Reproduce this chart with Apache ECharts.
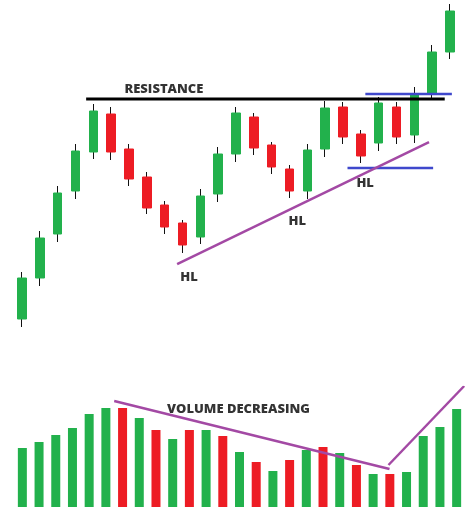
<!DOCTYPE html>
<html>
<head>
<meta charset="utf-8">
<script src="https://cdn.jsdelivr.net/npm/echarts@6/dist/echarts.min.js"></script>
<style>
  html, body { margin: 0; padding: 0; background: #fff; }
  #chart { width: 466px; height: 520px; }
</style>
</head>
<body>
<div id="chart"></div>
<script>
// price candles
const opens  = [21, 62, 106, 149, 188, 226, 191, 163, 135, 117, 103, 146, 186, 223, 195, 171, 149, 191, 233, 206, 197, 233, 205, 247, 288]
const closes = [62, 102, 147, 189, 229, 188, 161, 132, 113, 95, 144, 186, 227, 192, 173, 149, 190, 232, 203, 184, 237, 203, 245, 288, 329]
const lows   = [13, 54, 98, 141, 181, 180, 154, 126, 106, 87, 96, 138, 178, 185, 166, 142, 141, 183, 196, 177, 189, 196, 197, 242, 281]
const highs  = [68, 109, 154, 196, 236, 233, 196, 168, 139, 120, 151, 193, 233, 227, 198, 175, 196, 239, 238, 210, 243, 238, 253, 295, 336]

// volume bars
const volumes = [59, 65, 72, 79, 93, 99, 99, 89, 77, 68, 77, 77, 71, 55, 45, 36, 47, 57, 60, 54, 42, 33, 33, 35, 71, 80, 98]
const volumeDir = ['up', 'up', 'up', 'up', 'up', 'up', 'down', 'up', 'down', 'up', 'down', 'up', 'down', 'up',
  'down', 'up', 'down', 'up', 'down', 'up', 'down', 'up', 'down', 'up', 'up', 'up', 'up']

// annotations: [candle index, price] / [bar index, volume]
const resistanceLine = [[3.6, 241], [23.7, 241]]
const breakoutLine = [[19.25, 246], [24.1, 246]]
const higherLowLine = [[18.25, 172], [23.05, 172]]
const supportTrend = [[8.7, 76], [22.82, 198]]
const volumeTrendDown = [[5.5, 106], [21.98, 38]]
const volumeTrendUp = [[21.92, 42], [26.45, 121]]
const priceLabels = [
  { text: 'RESISTANCE', at: [7.96, 251] },
  { text: 'HL', at: [9.37, 63] },
  { text: 'HL', at: [15.43, 119] },
  { text: 'HL', at: [19.24, 157] },
]
const volumeLabels = [{ text: 'VOLUME DECREASING', at: [12.94, 98] }]

const GREEN = '#22b14c'
const RED = '#ed1c24'
const PURPLE = '#a349a4'
const BLUE = '#3f48cc'

const candleIdx = opens.map((_, i) => i)
const volIdx = volumes.map((_, i) => i)

// black wick underneath, coloured body (no wick) on top
const wickData = opens.map((o, i) => [o, closes[i], lows[i], highs[i]])
const bodyData = opens.map((o, i) => {
  const lo = Math.min(o, closes[i])
  const hi = Math.max(o, closes[i])
  return [o, closes[i], lo, hi]
})

function lineSeries(data, color, width, xAxisIndex, yAxisIndex) {
  return {
    type: 'line',
    xAxisIndex,
    yAxisIndex,
    data,
    symbol: 'none',
    silent: true,
    lineStyle: { color, width },
    z: 5,
  }
}

function labelSeries(items, xAxisIndex, yAxisIndex, size) {
  return {
    type: 'scatter',
    xAxisIndex,
    yAxisIndex,
    symbolSize: 0,
    silent: true,
    data: items.map(l => ({ value: l.at, name: l.text })),
    label: {
      show: true,
      position: 'inside',
      formatter: p => p.name,
      color: '#000',
      fontFamily: 'Open Sans',
      fontWeight: 800,
      fontSize: size,
    },
    z: 6,
  }
}

const chart = echarts.init(document.getElementById('chart'))

chart.setOption({
  animation: false,
  backgroundColor: '#fff',
  grid: [
    { left: 13, right: 7, top: 0, height: 340 },
    { left: 14, right: 1, top: 387, height: 120 },
  ],
  xAxis: [
    { type: 'category', gridIndex: 0, data: candleIdx, show: false },
    { type: 'category', gridIndex: 1, data: volIdx, show: false },
    { type: 'value', gridIndex: 0, min: -0.5, max: candleIdx.length - 0.5, show: false },
    { type: 'value', gridIndex: 1, min: -0.5, max: volIdx.length - 0.5, show: false },
  ],
  yAxis: [
    { type: 'value', gridIndex: 0, min: 0, max: 340, show: false, splitLine: { show: false } },
    { type: 'value', gridIndex: 1, min: 0, max: 120, show: false, splitLine: { show: false } },
  ],
  series: [
    {
      type: 'candlestick',
      xAxisIndex: 0,
      yAxisIndex: 0,
      data: wickData,
      barWidth: 1,
      itemStyle: { color: '#111', color0: '#111', borderColor: '#111', borderColor0: '#111', borderWidth: 1 },
      z: 2,
    },
    {
      type: 'candlestick',
      xAxisIndex: 0,
      yAxisIndex: 0,
      data: bodyData,
      barWidth: 9,
      itemStyle: { color: GREEN, color0: RED, borderColor: GREEN, borderColor0: RED, borderWidth: 1 },
      z: 3,
    },
    {
      type: 'bar',
      xAxisIndex: 1,
      yAxisIndex: 1,
      barWidth: 9,
      data: volumes.map((v, i) => ({
        value: v,
        itemStyle: { color: volumeDir[i] === 'up' ? GREEN : RED },
      })),
    },
    lineSeries(resistanceLine, '#000', 3, 2, 0),
    lineSeries(breakoutLine, BLUE, 2.5, 2, 0),
    lineSeries(higherLowLine, BLUE, 2.5, 2, 0),
    lineSeries(supportTrend, PURPLE, 2.5, 2, 0),
    lineSeries(volumeTrendDown, PURPLE, 2.5, 3, 1),
    lineSeries(volumeTrendUp, PURPLE, 2.5, 3, 1),
    labelSeries(priceLabels, 2, 0, 13),
    labelSeries(volumeLabels, 3, 1, 13),
  ],
})
</script>
</body>
</html>
